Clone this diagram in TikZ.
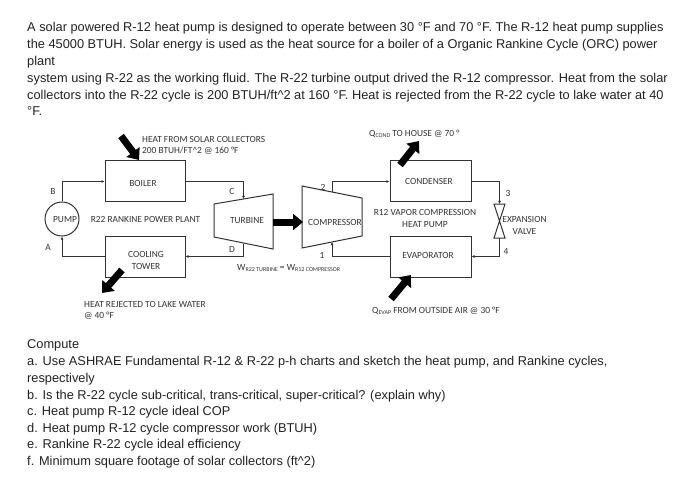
\documentclass[tikz,border=0pt]{standalone}
\usepackage{fontspec}
\setmainfont{Liberation Sans}
\newfontfamily\diagfont{Carlito}
\usetikzlibrary{arrows.meta,calc}
\definecolor{ink}{HTML}{222222}
\definecolor{dink}{HTML}{333333}
\newcommand\sbs[1]{\raisebox{-0.3ex}{\fontsize{6}{6}\selectfont #1}}
\tikzset{
  para/.style={anchor=base west,inner sep=0pt,text=ink,font=\fontsize{12.8}{15}\selectfont},
  unitbox/.style={draw=dink,line width=1pt,minimum width=80pt,minimum height=41pt,inner sep=0pt},
  lab/.style={inner sep=0pt,text=dink,font=\diagfont\fontsize{9.4}{11.5}\selectfont,align=center},
  labl/.style={lab,anchor=west,align=left},
  pipe/.style={draw=dink,line width=1pt,-{Latex[length=3pt,width=3pt]}},
  plain/.style={draw=dink,line width=1pt},
  bigarrow/.style={draw=black,line width=7pt,-{Triangle[length=10pt,width=16pt]}},
}
\begin{document}
\begin{tikzpicture}[x=1pt,y=-1pt]
\useasboundingbox[fill=white] (0,0) rectangle (700,486);
% paragraph
\foreach \yy/\tt in {
 32/{A solar powered R-12 heat pump is designed to operate between 30 °F and 70 °F. The R-12 heat pump supplies},
 49/{the 45000 BTUH. Solar energy is used as the heat source for a boiler of a Organic Rankine Cycle (ORC) power},
 66/{plant},
 83/{system using R-22 as the working fluid. The R-22 turbine output drived the R-12 compressor. Heat from the solar},
 100/{collectors into the R-22 cycle is 200 BTUH/ft\string^2 at 160 °F. Heat is rejected from the R-22 cycle to lake water at 40},
 116/{°F.},
 348/{Compute},
 365/{a. Use ASHRAE Fundamental R-12 \& R-22 p-h charts and sketch the heat pump, and Rankine cycles,},
 382/{respectively},
 399/{b. Is the R-22 cycle sub-critical, trans-critical, super-critical? (explain why)},
 415/{c. Heat pump R-12 cycle ideal COP},
 432/{d. Heat pump R-12 cycle compressor work (BTUH)},
 448/{e. Rankine R-22 cycle ideal efficiency},
 465/{f. Minimum square footage of solar collectors (ft\string^2)}}
 {\node[para] at (27,\yy) {\tt};}
% boxes
\node[unitbox] (boiler) at (145,181.5) {};
\node[unitbox] (tower) at (145,256.5) {};
\node[unitbox,minimum width=81pt] (cond) at (430.5,181.5) {};
\node[unitbox,minimum width=81pt] (evap) at (430.5,256.5) {};
\node[draw=dink,line width=1pt,circle,minimum size=34pt,inner sep=0pt] (pump) at (62,219) {};
% box text
\node[lab] (boilert) at (143,183) {BOILER};
\node[lab] (towert) at (146,260.5) {COOLING\\TOWER};
\node[lab] (condt) at (429,181) {CONDENSER};
\node[lab] (evapt) at (428,255) {EVAPORATOR};
\node[lab] (pumpt) at (65,219.5) {PUMP};
% turbine, compressor, valve
\coordinate (t1) at (214,204); \coordinate (t2) at (273,194); \coordinate (t3) at (273,249); \coordinate (t4) at (214,237);
\draw[plain] (t1)--(t2)--(t3)--(t4)--cycle;
\coordinate (c1) at (302,186); \coordinate (c2) at (362,198); \coordinate (c3) at (362,236); \coordinate (c4) at (302,248);
\draw[plain] (c1)--(c2)--(c3)--(c4)--cycle;
\coordinate (v1) at (494,204); \coordinate (v2) at (505,204); \coordinate (v3) at (494,238); \coordinate (v4) at (505,238);
\draw[plain] (v1)--(v2)--(v3)--(v4)--cycle;
\coordinate (vt) at (499.5,204); \coordinate (vb) at (499.5,238);
\coordinate (tin) at (243.5,199); \coordinate (tout) at (243.5,244);
\coordinate (cin) at (332,242); \coordinate (cout) at (332,192);
\node[lab] (turbt) at (247,220.5) {TURBINE};
\node[lab] (compt) at (335,222) {COMPRESSOR};
% connectors
\draw[pipe] (pump.north) |- (boiler.west);
\draw[pipe] (boiler.east) -| (tin);
\draw[pipe] (tout) |- (tower.east);
\draw[pipe] (tower.west) -| (pump.south);
\draw[pipe] (cout) |- (cond.west);
\draw[pipe] (cond.east) -| (vt);
\draw[pipe] (vb) |- (evap.east);
\draw[pipe] (evap.west) -| (cin);
% big arrows
\coordinate (a1) at (121,136); \coordinate (a2) at (139,160);
\draw[bigarrow] (a1) -- (a2);
\coordinate (b1) at (122,270); \coordinate (b2) at (102,293);
\draw[bigarrow] (b1) -- (b2);
\coordinate (w1) at (273,222); \coordinate (w2) at (303,222);
\draw[bigarrow] (w1) -- (w2);
\coordinate (d1) at (400,165); \coordinate (d2) at (419,141);
\draw[bigarrow] (d1) -- (d2);
\coordinate (e1) at (391,299); \coordinate (e2) at (411,275);
\draw[bigarrow] (e1) -- (e2);
% labels
\node[labl] (l1) at (142,139) {HEAT FROM SOLAR COLLECTORS};
\node[labl] (l2) at (142,151) {200 BTUH/FT\string^2 @ 160 °F};
\node[lab] (l3) at (145.5,219) {R22 RANKINE POWER PLANT};
\node[labl] (l4) at (84,304) {HEAT REJECTED TO LAKE WATER};
\node[labl] (l5) at (84,316) {@ 40 °F};
\node[labl] (l6) at (237,268) {W\sbs{R22 TURBINE} = W\sbs{R12 COMPRESSOR}};
\node[labl] (l7) at (369,134) {Q\sbs{COND} TO HOUSE @ 70 °};
\node[lab] (l8) at (425,218.5) {R12 VAPOR COMPRESSION\\HEAT PUMP};
\node[lab] (l9) at (524.5,225.5) {EXPANSION\\VALVE};
\node[labl] (l10) at (372,311) {Q\sbs{EVAP} FROM OUTSIDE AIR @ 30 °F};
\node[lab] (pb) at (53,191) {B};
\node[lab] (pa) at (48,247) {A};
\node[lab] (pc) at (232,191) {C};
\node[lab] (pd) at (232,249) {D};
\node[lab] (p3) at (508,193) {3};
\node[lab] (p4) at (506,251) {4};
\node[lab] (p2) at (323,187) {2};
\node[lab] (p1) at (322,255) {1};
\end{tikzpicture}
\end{document}
